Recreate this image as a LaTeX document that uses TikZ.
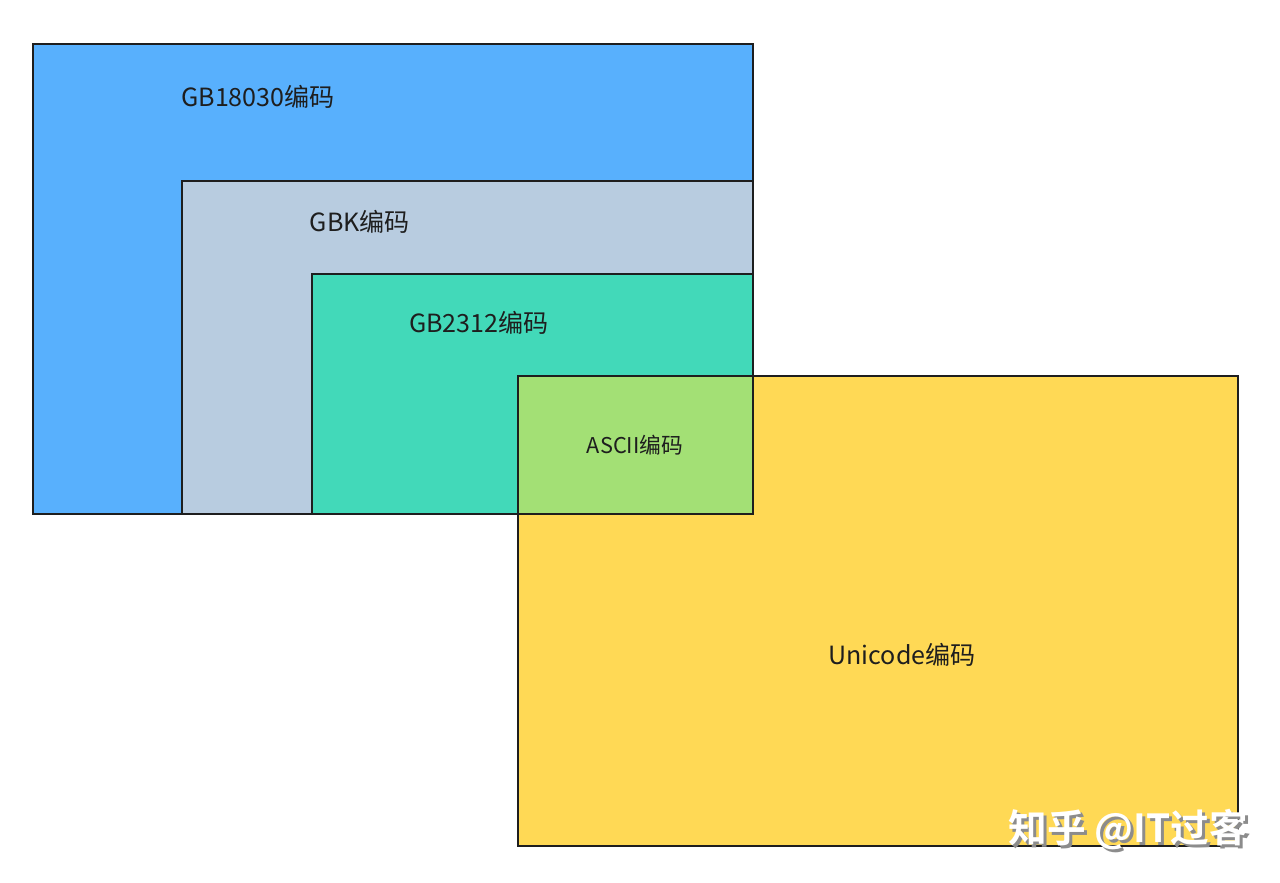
\documentclass[tikz,border=0pt]{standalone}
\usepackage{fontspec}
\setmainfont{Noto Sans CJK SC}
\newfontfamily\wmfont{Noto Sans CJK SC}[BoldFont={* Bold}]
\definecolor{cblue}{HTML}{58B0FD}
\definecolor{cgbk}{HTML}{B8CCE0}
\definecolor{cteal}{HTML}{42D9B9}
\definecolor{cyel}{HTML}{FFD955}
\definecolor{cgreen}{HTML}{A3E075}
\definecolor{cline}{HTML}{1E1E1E}
\begin{document}
\begin{tikzpicture}[x=0.75pt,y=-0.75pt,
  box/.style={draw=cline,line width=2pt},
  lbl/.style={text=cline,inner sep=0pt,font=\fontsize{18.8}{22}\selectfont}]
\useasboundingbox (0,0) rectangle (1280,882);
\fill[white] (0,0) rectangle (1280,882);
\filldraw[box,fill=cblue] (33,44) rectangle (753,514);
\filldraw[box,fill=cgbk] (182,181) rectangle (753,514);
\filldraw[box,fill=cteal] (312,274) rectangle (753,514);
\filldraw[box,fill=cyel] (518,376) rectangle (1238,846);
\filldraw[box,fill=cgreen] (518,376) rectangle (753,514);
\node[lbl] (gb18030) at (258,97) {GB18030编码};
\node[lbl] (gbk) at (360,222) {GBK编码};
\node[lbl] (gb2312) at (479,323) {GB2312编码};
\node[lbl,font=\fontsize{16.3}{19}\selectfont] (ascii) at (635,445) {ASCII编码};
\node[lbl] (unicode) at (902,655) {Unicode编码};
\node[text=black!45,inner sep=0pt,font=\wmfont\bfseries\fontsize{29}{34}\selectfont] (wmshadow) at (1131,832) {知乎 @IT过客};
\node[text=white,inner sep=0pt,font=\wmfont\bfseries\fontsize{29}{34}\selectfont] (wm) at (1128,829) {知乎 @IT过客};
\end{tikzpicture}
\end{document}
